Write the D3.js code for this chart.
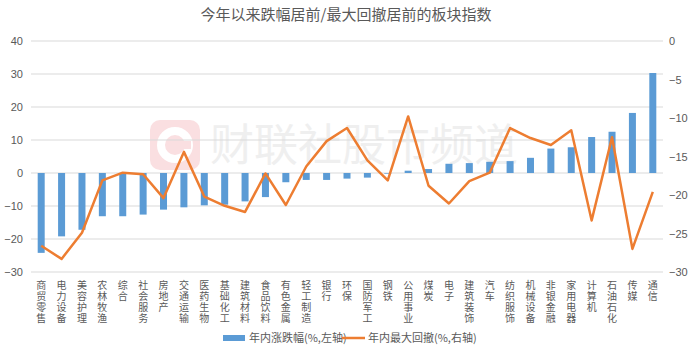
<!DOCTYPE html>
<html><head><meta charset="utf-8">
<script src="https://cdn.jsdelivr.net/npm/d3@7"></script>
<style>body{margin:0;background:#fff}svg{display:block;font-family:"Noto Sans CJK SC","Microsoft YaHei",sans-serif}</style>
</head><body><svg id="c" width="692" height="355"></svg>
<script>
const categories = ["商贸零售","电力设备","美容护理","农林牧渔","综合","社会服务","房地产","交通运输","医药生物","基础化工","建筑材料","食品饮料","有色金属","轻工制造","银行","环保","国防军工","钢铁","公用事业","煤炭","电子","建筑装饰","汽车","纺织服饰","机械设备","非银金融","家用电器","计算机","石油石化","传媒","通信"];
const changeValues = [-24.2,-19.2,-17.2,-13.1,-13.1,-12.6,-11.1,-10.4,-9.8,-9.6,-8.6,-7.3,-2.8,-2.1,-2.1,-1.7,-1.4,-0.2,0.7,1.2,2.8,3.0,3.4,3.6,4.6,7.4,7.8,10.9,12.5,18.2,30.3];
const drawdownValues = [-26.6,-28.3,-24.9,-18.1,-17.1,-17.3,-20.4,-14.4,-20.2,-21.4,-22.2,-17.2,-21.3,-16.3,-13.0,-11.3,-15.5,-18.1,-9.8,-18.8,-21.1,-18.2,-17.1,-11.3,-12.6,-13.5,-11.6,-23.3,-12.5,-27.0,-19.6];
const leftTicks = [40,30,20,10,0,-10,-20,-30];
const rightTicks = [0,-5,-10,-15,-20,-25,-30];
const title = "今年以来跌幅居前/最大回撤居前的板块指数";
const legendLabels = ["年内涨跌幅(%,左轴)","年内最大回撤(%,右轴)"];

const svg = d3.select("#c");
const L = 31, R = 663, T = 41, B = 272;
const x = d3.scaleBand().domain(categories).range([L, R]);
const yL = d3.scaleLinear().domain([-30, 40]).range([B, T]);
const yR = d3.scaleLinear().domain([-30, 0]).range([B, T]);
const txt = "#595959";

// watermark
const wm = svg.append("g");
wm.append("rect").attr("x",150).attr("y",120).attr("width",50).attr("height",50).attr("rx",10).attr("fill","#fadfe1");
wm.append("circle").attr("cx",175).attr("cy",145).attr("r",14).attr("fill","none").attr("stroke","#fff").attr("stroke-width",8);
wm.append("rect").attr("x",177).attr("y",141).attr("width",14).attr("height",8).attr("fill","#fadfe1");
wm.append("text").attr("x",210).attr("y",161).attr("font-size",44).attr("fill","#efefef").text("财联社股市频道");

// title
svg.append("text").attr("x",346).attr("y",20).attr("text-anchor","middle").attr("font-size",15).attr("fill",txt).text(title);

// gridlines
svg.append("g").selectAll("line").data(leftTicks).join("line")
  .attr("x1",L).attr("x2",R).attr("y1",d=>yL(d)).attr("y2",d=>yL(d))
  .attr("stroke","#d9d9d9").attr("stroke-width",1);

// left axis
const la = svg.append("g").attr("transform",`translate(${L},0)`)
  .call(d3.axisLeft(yL).tickValues(leftTicks).tickSize(0).tickPadding(8));
la.select(".domain").remove();
la.selectAll("text").attr("font-size",11).attr("fill",txt).attr("font-family","Liberation Sans, Arial, sans-serif");

// right axis
const ra = svg.append("g").attr("transform",`translate(${R},0)`)
  .call(d3.axisRight(yR).tickValues(rightTicks).tickSize(0).tickPadding(6));
ra.select(".domain").remove();
ra.selectAll("text").attr("font-size",11).attr("fill",txt).attr("font-family","Liberation Sans, Arial, sans-serif");

// bars
const bw = 7;
svg.append("g").selectAll("rect").data(changeValues).join("rect")
  .attr("x",(d,i)=>x(categories[i])+x.bandwidth()/2-bw/2)
  .attr("width",bw)
  .attr("y",d=>yL(Math.max(0,d)))
  .attr("height",d=>Math.abs(yL(d)-yL(0)))
  .attr("fill","#5B9BD5");

// line
const line = d3.line().x((d,i)=>x(categories[i])+x.bandwidth()/2).y(d=>yR(d));
svg.append("path").datum(drawdownValues).attr("d",line)
  .attr("fill","none").attr("stroke","#ED7D31").attr("stroke-width",2.5).attr("stroke-linejoin","round");

// x labels (vertical, one char per text)
const xl = svg.append("g");
categories.forEach(c=>{
  const cx = x(c)+x.bandwidth()/2;
  Array.from(c).forEach((ch,j)=>{
    xl.append("text").attr("x",cx).attr("y",289+j*11).attr("text-anchor","middle")
      .attr("font-size",10).attr("fill",txt).text(ch);
  });
});

// legend
const lg = svg.append("g");
lg.append("rect").attr("x",223).attr("y",335).attr("width",22).attr("height",6).attr("fill","#5B9BD5");
lg.append("text").attr("x",249).attr("y",342).attr("font-size",11).attr("fill",txt).text(legendLabels[0]);
lg.append("line").attr("x1",342).attr("x2",365).attr("y1",338).attr("y2",338).attr("stroke","#ED7D31").attr("stroke-width",2.5);
lg.append("text").attr("x",368).attr("y",342).attr("font-size",11).attr("fill",txt).text(legendLabels[1]);
</script>
</body></html>
